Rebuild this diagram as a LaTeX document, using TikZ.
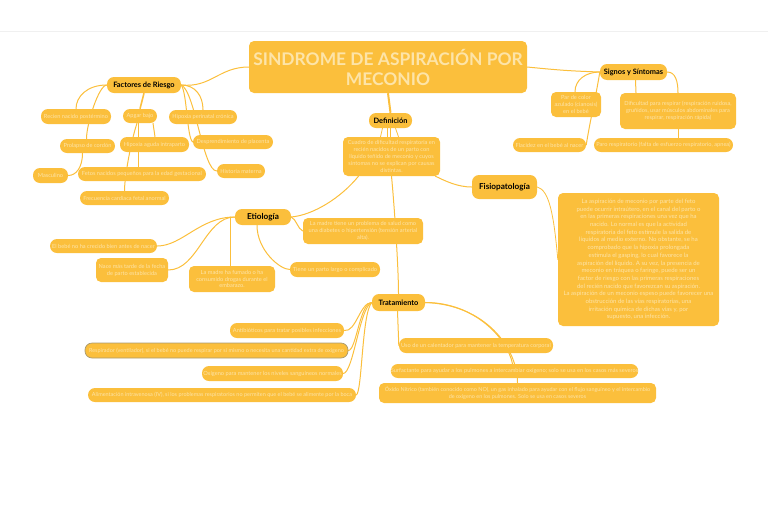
\documentclass[tikz,border=0pt]{standalone}
\usepackage{fontspec}
\setmainfont{Lato}
\usetikzlibrary{backgrounds}
\definecolor{mapfill}{HTML}{FBBF3C}
\definecolor{maptext}{HTML}{FDE4A8}
\definecolor{mapedge}{HTML}{A89A70}
\tikzset{
  boxbase/.style={fill=mapfill,inner sep=0pt,align=center},
  leaf/.style={boxbase,rounded corners=7pt,text=maptext,font=\fontsize{5.65}{7}\selectfont},
  longleaf/.style={leaf,font=\fontsize{5.5}{7}\selectfont},
  block/.style={boxbase,rounded corners=5pt,text=maptext,font=\fontsize{5.65}{6.8}\selectfont},
  wideblock/.style={block,font=\fontsize{5.45}{6.8}\selectfont},
  bigblock/.style={block,font=\fontsize{6}{7.7}\selectfont},
  topic/.style={boxbase,rounded corners=7pt,text=black,font=\fontsize{7.4}{9}\selectfont\bfseries},
  bigtopic/.style={topic,font=\fontsize{8.2}{9}\selectfont\bfseries},
  titlebox/.style={boxbase,rounded corners=5pt,text=maptext,font=\fontsize{17.4}{20}\selectfont\bfseries},
  link/.style={draw=mapfill,line width=1pt,line cap=round},
  thin link/.style={draw=mapfill,line width=0.8pt,line cap=round},
}
\newcommand{\boxnode}[7]{%
  \pgfmathsetmacro{\cxx}{(#2+#4)/2}%
  \pgfmathsetmacro{\cyy}{(#3+#5)/2}%
  \pgfmathsetmacro{\www}{#4-#2}%
  \pgfmathsetmacro{\hhh}{#5-#3}%
  \node[#6,minimum width=\www pt,minimum height=\hhh pt] (#1) at (\cxx,\cyy) {#7};%
}
\begin{document}
\begin{tikzpicture}[x=1pt,y=-1pt]
\useasboundingbox (0,0) rectangle (768,509);
\draw[black!6,line width=0.8pt] (0,31) -- (768,31);

\boxnode{root}{249}{41}{527}{93}{titlebox}{SINDROME DE ASPIRACIÓN POR\\MECONIO}
\boxnode{fact}{107}{77}{181}{93}{topic}{Factores de Riesgo}
\boxnode{recien}{41}{109}{111}{124}{leaf}{Recien nacido postérmino}
\boxnode{prolapso}{60}{139}{115}{153}{leaf}{Prolapso de cordón}
\boxnode{masc}{33}{168}{68}{183}{leaf}{Masculino}
\boxnode{apgar}{123}{109}{157}{123}{leaf}{Apgar bajo}
\boxnode{hperi}{169}{110}{237}{124}{leaf}{Hipoxia perinatal crónica}
\boxnode{haguda}{120}{137}{189}{152}{leaf}{Hipoxia aguda intraparto}
\boxnode{despren}{193}{135}{273}{149}{leaf}{Desprendimiento de placenta}
\boxnode{hmat}{217}{164}{265}{178}{leaf}{Historia materna}
\boxnode{fetos}{78}{167}{206}{181}{leaf}{Fetos nacidos pequeños para la edad gestacional}
\boxnode{frec}{80}{191}{169}{205}{leaf}{Frecuencia cardiaca fetal anormal}

\boxnode{signos}{600}{64}{667}{80}{topic}{Signos y Síntomas}
\boxnode{par}{551}{92}{601}{117}{block}{Par de color\\azulado (cianosis)\\en el bebé}
\boxnode{dific}{620}{93}{736}{129}{block}{Dificultad para respirar (respiración ruidosa,\\gruñidos, usar músculos abdominales para\\respirar, respiración rápida)}
\boxnode{flac}{513}{138}{586}{152}{leaf}{Flacidez en el bebé al nacer}
\boxnode{paro}{594}{138}{733}{152}{leaf}{Paro respiratorio (falta de esfuerzo respiratorio, apnea)}

\boxnode{defi}{369}{113}{412}{128}{topic}{Definición}
\boxnode{cuadro}{343}{137}{440}{176}{block}{Cuadro de dificultad respiratoria en\\recién nacidos de un parto con\\líquido teñido de meconio y cuyos\\síntomas no se explican por causas\\distintas.}
\boxnode{fisio}{472}{175}{537}{199}{bigtopic}{Fisiopatología}
\boxnode{fistext}{558}{193}{719}{326}{bigblock}{La aspiración de meconio por parte del feto\\puede ocurrir intraútero, en el canal del parto o\\en las primeras respiraciones una vez que ha\\nacido. Lo normal es que la actividad\\respiratoria del feto estimule la salida de\\líquidos al medio externo. No obstante, se ha\\comprobado que la hipoxia prolongada\\estimula el gasping, lo cual favorece la\\aspiración del líquido. A su vez, la presencia de\\meconio en tráquea o faringe, puede ser un\\factor de riesgo con las primeras respiraciones\\del recién nacido que favorezcan su aspiración.\\La aspiración de un meconio espeso puede favorecer una\\obstrucción de las vías respiratorias, una\\irritación química de dichas vías y, por\\supuesto, una infección.}

\boxnode{etio}{235}{209}{291}{225}{bigtopic}{Etiología}
\boxnode{mtiene}{303}{218}{423}{244}{block}{La madre tiene un problema de salud como\\una diabetes o hipertensión (tensión arterial\\alta).}
\boxnode{bebe}{50}{239}{157}{253}{leaf}{El bebé no ha crecido bien antes de nacer}
\boxnode{nace}{96}{258}{168}{282}{block}{Nace más tarde de la fecha\\de parto establecida}
\boxnode{fumado}{189}{266}{275}{292}{block}{La madre ha fumado o ha\\consumido drogas durante el\\embarazo.}
\boxnode{tparto}{290}{262}{380}{277}{leaf}{Tiene un parto largo o complicado}

\boxnode{trat}{372}{294}{425}{311}{topic}{Tratamiento}
\boxnode{anti}{230}{323}{344}{338}{leaf}{Antibióticos para tratar posibles infecciones}
\boxnode{resp}{85}{343}{348}{358}{longleaf,draw=mapedge,line width=0.7pt}{Respirador (ventilador), si el bebé no puede respirar por sí mismo o necesita una cantidad extra de oxígeno}
\boxnode{oxi}{202}{366}{343}{381}{leaf}{Oxígeno para mantener los niveles sanguíneos normales}
\boxnode{alim}{88}{388}{356}{402}{longleaf}{Alimentación intravenosa (IV), si los problemas respiratorios no permiten que el bebé se alimente por la boca}
\boxnode{uso}{399}{338}{553}{353}{leaf}{Uso de un calentador para mantener la temperatura corporal}
\boxnode{surf}{391}{364}{638}{378}{leaf}{Surfactante para ayudar a los pulmones a intercambiar oxígeno; solo se usa en los casos más severos}
\boxnode{oxido}{379}{383}{656}{403}{wideblock}{Óxido Nítrico (también conocido como NO), un gas inhalado para ayudar con el flujo sanguíneo y el intercambio\\de oxígeno en los pulmones. Solo se usa en casos severos}

\begin{scope}[on background layer]
% root branches
\draw[link] (root.west) .. controls +(-30,0) and +(30,3) .. (fact.east);
\draw[link] (root.east) .. controls +(30,3) and +(-30,-1) .. (signos.west);
\draw[line width=2pt,draw=mapfill] (root.south) -- (defi.north);
% factores
\draw[link] (fact.west) .. controls +(-20,0) and +(0,-12) .. (recien.north);
\draw[link] (fact.west) .. controls +(-8,0) and +(0,-15) .. ([xshift=-1pt]prolapso.north);
\draw[link] ([xshift=-5pt]prolapso.south) .. controls +(0,14) and +(8,0) .. (masc.east);
\draw[line width=1.6pt,draw=mapfill] (fact.south) -- (apgar.north);
\draw[link] ([xshift=13pt]apgar.south) -- ([xshift=0.5pt]haguda.north);
\draw[link] ([xshift=-2pt]apgar.south) -- ([xshift=-2pt]apgar.south |- fetos.north);
\draw[link] ([xshift=-3pt]apgar.south) .. controls +(-6,18) and +(0,-14) .. (frec.north);
\draw[link] (fact.east) .. controls +(14,0) and +(0,-14) .. (hperi.north);
\draw[link] (fact.east) .. controls +(6,8) and +(-6,-4) .. (despren.west);
\draw[link] (fact.east) .. controls +(14,6) and +(-14,0) .. (hmat.west);
% signos
\draw[link] (signos.west) .. controls +(-14,0) and +(0,-12) .. ([xshift=-1pt]par.north);
\draw[link] (signos.west) .. controls +(-4,25) and +(4,-25) .. (flac.east);
\draw[link] ([xshift=2pt]signos.south) -- ([xshift=-42pt]dific.north);
\draw[link] (signos.east) .. controls +(8,0) and +(0,-12) .. (dific.north);
\draw[link] (dific.south) -- (paro.north -| dific.south);
% definicion
\draw[thin link] ([xshift=-8pt]defi.south) -- ([xshift=-11pt]cuadro.north);
\draw[thin link] ([xshift=-3pt]defi.south) -- ([xshift=-4pt]cuadro.north);
\draw[thin link] (defi.south) -- ([xshift=-1pt]cuadro.north);
\draw[thin link] ([xshift=5pt]defi.south) -- ([xshift=7pt]cuadro.north);
\draw[link] ([xshift=-33pt]cuadro.south) .. controls +(-18,22) and +(22,-2) .. (etio.east);
\draw[link] ([xshift=44pt]cuadro.south) .. controls +(10,5) and +(-14,0) .. (fisio.west);
\draw[link] (cuadro.south) .. controls +(2,20) and +(0,-30) .. (trat.north);
% fisio
\draw[thin link] (fisio.east) .. controls +(12,3) and +(-4,-45) .. (fistext.west);
% etiologia
\draw[link] (etio.west) .. controls +(-35,0) and +(25,0) .. (bebe.east);
\draw[link] (etio.west) .. controls +(-30,0) and +(30,0) .. (nace.east);
\draw[link] ([xshift=-4pt]etio.west) -- ([xshift=-4pt]etio.west |- fumado.north);
\draw[link] ([xshift=-6pt]etio.south) .. controls +(0,25) and +(-10,0) .. (tparto.west);
\draw[link] (etio.east) .. controls +(5,2) and +(-5,-2) .. (mtiene.west);
% tratamiento
\draw[link] (trat.west) .. controls +(-12,0) and +(12,2) .. (anti.east);
\draw[link] (trat.west) .. controls +(-12,0) and +(8,0) .. (resp.east);
\draw[link] (trat.west) .. controls +(-12,4) and +(10,0) .. (oxi.east);
\draw[link] (trat.west) .. controls +(-10,10) and +(6,-2) .. (alim.east);
\draw[link] ([xshift=-1pt]trat.south) -- (uso.west);
\draw[link] (trat.east) .. controls +(50,0) and +(-5,-25) .. ([xshift=-2pt]surf.north);
\draw[link] (trat.east) .. controls +(60,2) and +(0,-35) .. (oxido.north);
\end{scope}
\end{tikzpicture}
\end{document}
